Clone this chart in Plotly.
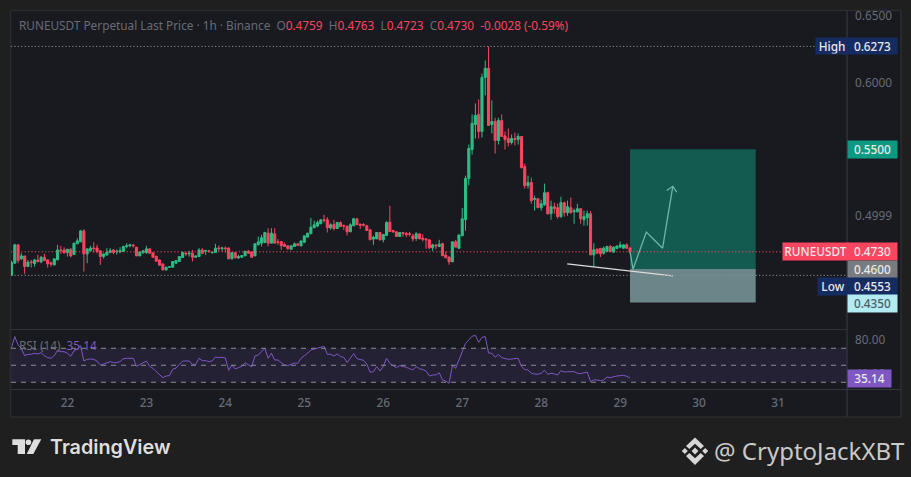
import plotly.graph_objects as go

# hourly candles
opens = [
    .4553, .4644, .4782, .4677, .4699, .4619, .4654, .4642, .4669, .4654,
    .4689, .4669, .4647, .4631, .4669, .4744, .4744, .4724, .4749, .4709,
    .4790, .4805, .4887, .4714, .4739, .4759, .4759, .4737, .4694, .4707,
    .4724, .4744, .4729, .4729, .4732, .4770, .4775, .4780, .4764, .4699,
    .4724, .4724, .4752, .4722, .4697, .4669, .4639, .4594, .4614, .4614,
    .4644, .4657, .4687, .4719, .4714, .4719, .4689, .4694, .4744, .4734,
    .4737, .4722, .4724, .4759, .4754, .4759, .4759, .4679, .4724, .4684,
    .4689, .4699, .4734, .4729, .4699, .4782, .4795, .4800, .4870, .4795,
    .4865, .4805, .4807, .4785, .4775, .4749, .4770, .4790, .4775, .4802,
    .4840, .4865, .4910, .4923, .4940, .4970, .4970, .4910, .4935, .4905,
    .4950, .4928, .4920, .4880, .4925, .4978, .4938, .4935, .4925, .4895,
    .4825, .4827, .4875, .4820, .4852, .4953, .4890, .4880, .4845, .4875,
    .4868, .4865, .4850, .4830, .4865, .4832, .4827, .4820, .4760, .4780,
    .4770, .4792, .4705, .4690, .4655, .4805, .4757, .4850, .4971, .5280,
    .5498, .5686, .5762, .5634, .6040, .6108, .5686, .5709, .5566, .5716,
    .5601, .5581, .5551, .5581, .5573, .5596, .5370, .5227, .5250, .5124,
    .5129, .5061, .5084, .5174, .5016, .5069, .5061, .4994, .5099, .5024,
    .5061, .5031, .5031, .5054, .4971, .4986, .5016, .4707, .4750, .4755,
    .4720, .4732, .4770, .4727, .4755, .4765, .4757, .4782, .4759,
]
highs = [
    .4662, .4790, .4785, .4719, .4699, .4669, .4669, .4677, .4707, .4699,
    .4714, .4672, .4657, .4677, .4782, .4775, .4764, .4752, .4757, .4795,
    .4832, .4895, .4900, .4752, .4775, .4802, .4782, .4740, .4714, .4757,
    .4757, .4749, .4749, .4764, .4775, .4795, .4790, .4790, .4767, .4729,
    .4744, .4775, .4757, .4724, .4699, .4672, .4642, .4619, .4617, .4657,
    .4664, .4694, .4732, .4729, .4737, .4744, .4702, .4757, .4757, .4744,
    .4744, .4729, .4790, .4777, .4767, .4770, .4762, .4727, .4727, .4707,
    .4702, .4737, .4744, .4732, .4790, .4845, .4857, .4880, .4907, .4907,
    .4907, .4825, .4810, .4800, .4777, .4777, .4800, .4792, .4812, .4850,
    .4870, .4985, .4965, .4965, .4975, .5008, .4990, .4945, .4970, .4955,
    .4958, .4935, .4930, .4945, .4985, .4980, .4940, .4945, .4933, .4897,
    .4850, .4875, .4878, .4860, .4960, .5076, .4895, .4882, .4875, .4880,
    .4878, .4880, .4865, .4878, .4867, .4862, .4832, .4822, .4790, .4790,
    .4820, .4797, .4732, .4695, .4805, .4820, .4857, .5058, .5302, .5536,
    .5762, .5844, .5875, .6070, .6168, .6273, .5867, .5737, .5737, .5762,
    .5634, .5656, .5611, .5626, .5619, .5600, .5393, .5302, .5287, .5152,
    .5132, .5122, .5242, .5182, .5114, .5099, .5091, .5144, .5106, .5114,
    .5137, .5054, .5091, .5056, .5039, .5039, .5036, .4795, .4755, .4760,
    .4770, .4775, .4782, .4770, .4778, .4807, .4785, .4795, .4763,
]
lows = [
    .4553, .4644, .4644, .4669, .4564, .4619, .4611, .4619, .4649, .4644,
    .4669, .4611, .4619, .4631, .4669, .4714, .4714, .4694, .4689, .4709,
    .4790, .4805, .4581, .4644, .4732, .4724, .4719, .4631, .4679, .4699,
    .4724, .4712, .4709, .4719, .4732, .4757, .4764, .4762, .4699, .4699,
    .4714, .4714, .4719, .4689, .4659, .4629, .4589, .4589, .4609, .4612,
    .4642, .4657, .4687, .4699, .4694, .4657, .4687, .4694, .4714, .4707,
    .4724, .4719, .4722, .4732, .4732, .4724, .4677, .4669, .4684, .4677,
    .4687, .4699, .4714, .4689, .4699, .4782, .4770, .4800, .4770, .4795,
    .4795, .4782, .4744, .4770, .4744, .4744, .4770, .4777, .4770, .4795,
    .4840, .4865, .4910, .4915, .4940, .4950, .4875, .4895, .4890, .4905,
    .4920, .4895, .4852, .4880, .4925, .4933, .4902, .4920, .4890, .4820,
    .4782, .4827, .4815, .4800, .4852, .4882, .4872, .4845, .4845, .4845,
    .4840, .4845, .4807, .4812, .4827, .4807, .4752, .4750, .4737, .4750,
    .4765, .4700, .4685, .4632, .4655, .4765, .4750, .4850, .4888, .5229,
    .5460, .5581, .5581, .5588, .5905, .5675, .5619, .5468, .5536, .5592,
    .5498, .5521, .5536, .5528, .5536, .5355, .5204, .5204, .5091, .5039,
    .5059, .5039, .5076, .5009, .4971, .5016, .4979, .4986, .4994, .5001,
    .5016, .4941, .5024, .4941, .4926, .4926, .4707, .4614, .4715, .4690,
    .4707, .4728, .4727, .4725, .4750, .4757, .4750, .4750, .4723,
]
closes = [
    .4649, .4782, .4664, .4699, .4619, .4652, .4649, .4669, .4657, .4689,
    .4664, .4639, .4637, .4677, .4744, .4739, .4724, .4749, .4699, .4795,
    .4812, .4887, .4714, .4752, .4757, .4754, .4732, .4694, .4714, .4729,
    .4739, .4724, .4734, .4739, .4770, .4775, .4782, .4775, .4699, .4729,
    .4737, .4752, .4719, .4689, .4659, .4629, .4594, .4614, .4617, .4657,
    .4664, .4694, .4724, .4714, .4719, .4689, .4699, .4744, .4719, .4739,
    .4732, .4727, .4757, .4754, .4759, .4754, .4677, .4724, .4684, .4694,
    .4702, .4734, .4719, .4689, .4790, .4805, .4835, .4875, .4795, .4870,
    .4795, .4800, .4775, .4770, .4754, .4775, .4790, .4777, .4812, .4850,
    .4870, .4915, .4933, .4950, .4970, .4965, .4910, .4933, .4905, .4950,
    .4920, .4923, .4880, .4933, .4978, .4933, .4930, .4930, .4890, .4820,
    .4840, .4875, .4820, .4860, .4950, .4882, .4880, .4845, .4875, .4868,
    .4860, .4862, .4827, .4865, .4827, .4825, .4820, .4760, .4782, .4775,
    .4787, .4700, .4685, .4655, .4805, .4765, .4857, .4978, .5280, .5506,
    .5696, .5754, .5634, .6040, .6108, .5679, .5709, .5566, .5716, .5596,
    .5573, .5551, .5581, .5573, .5596, .5363, .5227, .5250, .5114, .5129,
    .5061, .5091, .5174, .5016, .5069, .5054, .4994, .5099, .5024, .5069,
    .5024, .5039, .5054, .4979, .4994, .5016, .4707, .4745, .4720, .4715,
    .4757, .4770, .4732, .4765, .4773, .4782, .4782, .4757, .4730,
]
rsi_values = [
    70.7, 83.7, 73.9, 70, 61.3, 62.9, 62.9, 64.1, 63.3, 64.9,
    61.3, 59, 58.2, 61.3, 67.6, 66, 66, 64.1, 60.6, 66.8,
    69.2, 73.1, 55, 57, 57.4, 57, 55, 50.4, 51.5, 53.1,
    54.3, 53.1, 53.1, 54.3, 57.8, 58.2, 58.6, 58.2, 48.8, 50.8,
    52.7, 55, 48.8, 46.4, 42.5, 38.6, 35.5, 37.4, 37.8, 45.3,
    46.8, 51.1, 55, 55, 55, 51.1, 51.1, 58.2, 55.5, 55.5,
    54.3, 55, 59.8, 59, 59.4, 58.6, 44.1, 50.4, 45.7, 47.2,
    48.8, 53.1, 50.4, 48, 60.9, 62.1, 66, 70, 58.2, 64.1,
    56.2, 56.2, 53.1, 50.4, 49.6, 51.5, 52.7, 52.3, 58.2, 61.3,
    64.1, 68, 69.2, 70.7, 71.9, 72.3, 62.9, 62.9, 60.9, 63.3,
    60.2, 59.4, 53.1, 58.2, 63.7, 57.8, 56.6, 55.8, 51.5, 41.7,
    42.5, 48.4, 43.3, 48.8, 58.2, 52.3, 49.6, 47.2, 49.6, 48.8,
    47.6, 46, 44.5, 48.4, 46, 44.9, 43.3, 37.4, 38.6, 38.6,
    41.3, 32.7, 31.5, 28.8, 49.6, 46.4, 56.2, 66, 75.8, 79.8,
    84.1, 85.2, 77, 82.9, 83.7, 64.5, 64.1, 59.4, 62.5, 59,
    58.2, 57, 57.4, 57.4, 58.2, 48.8, 44.9, 44.5, 40.6, 39.8,
    39.4, 40.6, 44.1, 39.4, 40.6, 39.8, 38.6, 43.7, 42.1, 42.5,
    42.1, 42.5, 40.6, 40.2, 41, 42.1, 30.8, 32.7, 32.7, 31.9,
    32.7, 36.2, 35.5, 36.6, 37.4, 37.8, 38.2, 37, 35.14,
]
assert len(opens) == len(highs) == len(lows) == len(closes) == len(rsi_values) == 189

day_labels = ["22", "23", "24", "25", "26", "27", "28", "29", "30", "31"]
day_positions = [17, 41, 65, 89, 113, 137, 161, 185, 209, 233]
price_ticks = [0.65, 0.6, 0.4999]
price_tick_text = ["0.6500", "0.6000", "0.4999"]
rsi_ticks = [80, 40]
rsi_tick_text = ["80.00", "40.00"]

high_price = 0.6273
low_price = 0.4553
last_price = 0.4730
target_price = 0.55
entry_price = 0.46
stop_price = 0.435
box_start, box_end = 188, 226.2

# drawn on the chart by hand
trend_x = [168.9, 201]
trend_y = [0.4639, 0.4549]
path_x = [188, 188.9, 192.95, 197.9, 201]
path_y = [0.4732, 0.4599, 0.4878, 0.4757, 0.5222]
head_x = [199.15, 201, 202.2]
head_y = [0.5191, 0.5222, 0.5179]

GREEN = "#2ebd85"
RED = "#f9455f"
PANEL = "#181a20"
OUTER = "#1f1f1f"
TXT = "#686b76"
PURPLE = "#7e57c2"
FONT = "Noto Sans"
DOTS = "1.2px,2.2px"

L, R, T, B = 11, 847, 11, 389


def xp(x):
    return (x - L) / (R - L)


def yp(y):
    return (B - y) / (B - T)


def poly(points):
    return "M " + " L ".join(f"{xp(x):.5f},{yp(y):.5f}" for x, y in points) + " Z"


def badge(text, x0, x1, yc, bg, color="#e8e8ea", h=16.5):
    return dict(xref="paper", yref="paper", x=xp(x0), y=yp(yc), xanchor="left", yanchor="middle",
                width=x1 - x0, height=h, text=text, showarrow=False, bgcolor=bg, borderpad=0,
                align="center", valign="middle", font=dict(family=FONT, size=11.8, color=color, weight=500))


fig = go.Figure()
x_idx = list(range(len(closes)))

fig.add_trace(go.Candlestick(
    x=x_idx, open=opens, high=highs, low=lows, close=closes,
    increasing=dict(line=dict(color=GREEN, width=1), fillcolor=GREEN),
    decreasing=dict(line=dict(color=RED, width=1), fillcolor=RED),
    whiskerwidth=0, xaxis="x", yaxis="y", showlegend=False, hoverinfo="skip",
))
fig.add_trace(go.Scatter(x=trend_x, y=trend_y, mode="lines", line=dict(color="#dcdcdc", width=1.2),
                         xaxis="x", yaxis="y", showlegend=False, hoverinfo="skip"))
fig.add_trace(go.Scatter(x=path_x, y=path_y, mode="lines", line=dict(color="#6fb5ab", width=1.3),
                         xaxis="x", yaxis="y", showlegend=False, hoverinfo="skip"))
fig.add_trace(go.Scatter(x=head_x, y=head_y, mode="lines", line=dict(color="#6fb5ab", width=1.3),
                         xaxis="x", yaxis="y", showlegend=False, hoverinfo="skip"))
fig.add_trace(go.Scatter(x=list(range(len(rsi_values))), y=rsi_values, mode="lines",
                         line=dict(color=PURPLE, width=1), xaxis="x", yaxis="y2",
                         showlegend=False, hoverinfo="skip"))

shapes = [
    # panel behind the chart
    dict(type="rect", xref="paper", yref="paper", x0=xp(10.5), x1=xp(901), y0=yp(417), y1=yp(10.5),
         fillcolor=PANEL, line=dict(color="#2b2c2e", width=1.5), layer="below"),
    # position box
    dict(type="rect", xref="x", yref="y", x0=box_start, x1=box_end, y0=entry_price, y1=target_price,
         fillcolor="#135a50", line=dict(width=0), layer="below"),
    dict(type="rect", xref="x", yref="y", x0=box_start, x1=box_end, y0=stop_price, y1=entry_price,
         fillcolor="#6b8689", line=dict(width=0), layer="below"),
    # price lines
    dict(type="line", xref="paper", yref="y", x0=0, x1=1, y0=high_price, y1=high_price,
         line=dict(color="#8a8d94", width=1, dash=DOTS)),
    dict(type="line", xref="paper", yref="y", x0=0, x1=1, y0=low_price, y1=low_price,
         line=dict(color="#8a8d94", width=1, dash=DOTS)),
    dict(type="line", xref="paper", yref="y", x0=0, x1=1, y0=last_price, y1=last_price,
         line=dict(color=RED, width=1, dash=DOTS)),
    # rsi band
    dict(type="rect", xref="paper", yref="y2", x0=0, x1=1, y0=30, y1=70,
         fillcolor="rgba(126,87,194,0.12)", line=dict(width=0), layer="below"),
    # pane separators
    dict(type="line", xref="paper", yref="paper", x0=0, x1=1, y0=yp(329.5), y1=yp(329.5),
         line=dict(color="#2f3137", width=1)),
    dict(type="line", xref="paper", yref="paper", x0=0, x1=xp(901), y0=yp(389.5), y1=yp(389.5),
         line=dict(color="#33353c", width=1)),
    dict(type="line", xref="paper", yref="paper", x0=1, x1=1, y0=yp(417), y1=yp(10.5),
         line=dict(color="#383a41", width=1)),
    # tradingview logo
    dict(type="path", xref="paper", yref="paper", line=dict(width=0), fillcolor="#dedede",
         path=poly([(12.3, 439.3), (25, 439.3), (25, 454), (17.7, 454), (17.7, 445), (12.3, 445)])),
    dict(type="path", xref="paper", yref="paper", line=dict(width=0), fillcolor="#dedede",
         path=poly([(34, 439.3), (41.3, 439.3), (33.3, 454), (26.7, 454)])),
    dict(type="circle", xref="paper", yref="paper", x0=xp(25.6), x1=xp(31.2), y0=yp(445), y1=yp(439.4),
         line=dict(width=0), fillcolor="#dedede"),
    # binance logo
    dict(type="path", xref="paper", yref="paper", line=dict(width=0), fillcolor="#d6d6d6",
         path=poly([(695, 437.5), (704, 446), (700.7, 449), (695, 443.8), (689.3, 449), (686, 446)])),
    dict(type="path", xref="paper", yref="paper", line=dict(width=0), fillcolor="#d6d6d6",
         path=poly([(695, 465), (704, 456), (700.7, 453), (695, 458.2), (689.3, 453), (686, 456)])),
    dict(type="path", xref="paper", yref="paper", line=dict(width=0), fillcolor="#d6d6d6",
         path=poly([(695, 447.6), (698.4, 451), (695, 454.4), (691.6, 451)])),
    dict(type="path", xref="paper", yref="paper", line=dict(width=0), fillcolor="#d6d6d6",
         path=poly([(684.8, 448), (687.8, 451), (684.8, 454), (681.8, 451)])),
    dict(type="path", xref="paper", yref="paper", line=dict(width=0), fillcolor="#d6d6d6",
         path=poly([(705.2, 448), (708.2, 451), (705.2, 454), (702.2, 451)])),
]
for level in [70, 50, 30]:
    shapes.append(dict(type="line", xref="paper", yref="y2", x0=0, x1=1, y0=level, y1=level,
                       line=dict(color="#8a8c93", width=1, dash="5px,5px")))


def span(text, color):
    return f'<span style="color:{color}">{text}</span>'


header = (
    "RUNEUSDT Perpetual Last Price · 1h · Binance  "
    f"O{span('0.4759', RED)}  H{span('0.4763', RED)}  L{span('0.4723', RED)}  "
    f"C{span('0.4730', RED)}  {span('-0.0028 (-0.59%)', RED)}"
)

annotations = [
    dict(xref="paper", yref="paper", x=xp(16.5), y=yp(25), xanchor="left", yanchor="middle", showarrow=False,
         text=header, font=dict(family=FONT, size=11.8, color=TXT)),
    dict(xref="paper", yref="paper", x=xp(16.5), y=yp(344.5), xanchor="left", yanchor="middle", showarrow=False,
         text=f"RSI (14)  {span('35.14', PURPLE)}", font=dict(family=FONT, size=11.8, color=TXT)),
    badge("High", 815, 847, 45.5, "#152c62", h=15.5),
    badge("0.6273", 847, 896, 45.5, "#152c62", h=15.5),
    badge("0.5500", 847, 896, 149.5, "#0b9981"),
    badge("RUNEUSDT", 782, 847, 251.5, RED),
    badge("0.4730", 847, 896, 251.5, RED),
    badge("0.4600", 847, 896, 269.5, "#787b7f"),
    badge("Low", 817, 847, 286.5, "#152c62"),
    badge("0.4553", 847, 896, 286.5, "#152c62"),
    badge("0.4350", 847, 896, 303.5, "#b2ebf2", color="#4e5f62"),
    badge("35.14", 847, 890, 378.5, PURPLE),
    dict(xref="paper", yref="paper", x=xp(47.5), y=yp(447), xanchor="left", yanchor="middle", showarrow=False,
         text="TradingView", font=dict(family="Inter", size=19.8, color="#dedede", weight=600)),
    dict(xref="paper", yref="paper", x=xp(712), y=yp(450), xanchor="left", yanchor="middle", showarrow=False,
         text="@ CryptoJackXBT", font=dict(family=FONT, size=24, color="#c9c9c9")),
]

fig.update_layout(
    width=911, height=477,
    margin=dict(l=L, r=911 - R, t=T, b=477 - B),
    paper_bgcolor=OUTER,
    plot_bgcolor=PANEL,
    showlegend=False,
    boxgap=0.1,
    xaxis=dict(domain=[0, 1], anchor="y2", range=[-0.15, 253.95], rangeslider=dict(visible=False),
               automargin=False, tickvals=day_positions, ticktext=day_labels, showgrid=False, zeroline=False,
               showline=False, ticks="", ticklabelstandoff=5,
               tickfont=dict(family=FONT, size=11.8, color=TXT, weight=500)),
    yaxis=dict(domain=[60 / 378, 1], anchor="x", side="right", range=[0.4150, 0.6539], automargin=False,
               tickvals=price_ticks, ticktext=price_tick_text, showgrid=False, zeroline=False, showline=False,
               ticks="", ticklabelstandoff=7, tickfont=dict(family=FONT, size=11.8, color=TXT)),
    yaxis2=dict(domain=[0, 59 / 378], anchor="x", side="right", range=[22.1, 91.5], automargin=False,
                tickvals=rsi_ticks, ticktext=rsi_tick_text, showgrid=False, zeroline=False, showline=False,
                ticks="", ticklabelstandoff=7, tickfont=dict(family=FONT, size=11.8, color=TXT)),
    shapes=shapes,
    annotations=annotations,
)

# page margin off so the figure sits at the window corner
fig.write_html("out.html", config={"displayModeBar": False},
               post_script="document.body.style.margin='0';document.body.style.overflow='hidden';")
